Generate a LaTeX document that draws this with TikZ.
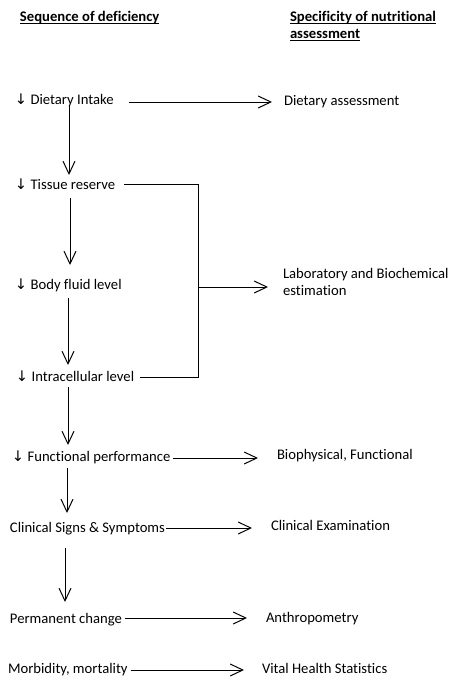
\documentclass[tikz,border=0pt]{standalone}
\usepackage{fontspec}
\setmainfont[Ligatures={NoCommon}]{Carlito}
\newfontfamily\arrfont{DejaVu Sans}
\usetikzlibrary{arrows.meta}
\newcommand{\dn}{{\arrfont\fontsize{11}{13}\selectfont ↓}}
\tikzset{
  lbl/.style={anchor=base west, inner sep=0pt, outer sep=0pt, font=\fontsize{11}{13}\selectfont},
  hdr/.style={lbl, font=\fontsize{11}{13}\selectfont\bfseries},
  conn/.style={line width=0.75pt, draw=black},
  arr/.style={conn, -{Straight Barb[length=9.5pt,width=9pt,line width=0.75pt]}},
  uline/.style={line width=0.75pt}
}
\begin{document}
\begin{tikzpicture}[x=0.75pt,y=-0.75pt]
\useasboundingbox (0,0) rectangle (469,687);
% headers
\node[hdr] (h1) at (20,21) {Sequence of deficiency};
\node[hdr] (h2a) at (290,21) {Specificity of nutritional};
\node[hdr] (h2b) at (290,38) {assessment};
\draw[uline] ([shift={(0,2)}]h1.base west) -- ([shift={(0,2)}]h1.base east);
\draw[uline] ([shift={(0,2)}]h2a.base west) -- ([shift={(0,2)}]h2a.base east);
\draw[uline] ([shift={(0,2)}]h2b.base west) -- ([shift={(0,2)}]h2b.base east);
% left column
\node[lbl] (di) at (15,104) {\dn\ Dietary Intake};
\node[lbl] (tr) at (15,189) {\dn\ Tissue reserve};
\node[lbl] (bf) at (15,289) {\dn\ Body fluid level};
\node[lbl] (il) at (16,381) {\dn\ Intracellular level};
\node[lbl] (fp) at (12,461) {\dn\ Functional performance};
\node[lbl] (cs) at (10,532) {Clinical Signs \& Symptoms};
\node[lbl] (pc) at (10,623) {Permanent change};
\node[lbl] (mm) at (8,673) {Morbidity, mortality};
% right column
\node[lbl] (da) at (284,105) {Dietary assessment};
\node[lbl] (lab1) at (283,278) {Laboratory and Biochemical};
\node[lbl] (lab2) at (283,295) {estimation};
\node[lbl] (bio) at (277,459) {Biophysical, Functional};
\node[lbl] (ce) at (271,530) {Clinical Examination};
\node[lbl] (an) at (266,622) {Anthropometry};
\node[lbl] (vh) at (262,673) {Vital Health Statistics};
% vertical sequence
\draw[arr] ([shift={(54,1)}]di.base west) -- ([shift={(54,-14)}]tr.base west);
\draw[arr] ([shift={(55,9)}]tr.base west) -- ([shift={(55,-24)}]bf.base west);
\draw[arr] ([shift={(53,9)}]bf.base west) -- ([shift={(52,-16)}]il.base west);
\draw[arr] ([shift={(52,6)}]il.base west) -- ([shift={(56,-16)}]fp.base west);
\draw[arr] ([shift={(55,7)}]fp.base west) -- ([shift={(57,-19)}]cs.base west);
\draw[arr] ([shift={(55,16)}]cs.base west) -- ([shift={(55,-21)}]pc.base west);
% horizontal arrows
\draw[arr] ([shift={(15,-2)}]di.base east) -- ([shift={(-12,-3)}]da.base west);
\draw[arr] ([shift={(3,-3)}]fp.base east) -- ([shift={(-19,-1)}]bio.base west);
\draw[arr] ([shift={(1,-4)}]cs.base east) -- ([shift={(-19,-2)}]ce.base west);
\draw[arr] ([shift={(3,-5)}]pc.base east) -- ([shift={(-19,-4)}]an.base west);
\draw[arr] ([shift={(3,-3)}]mm.base east) -- ([shift={(-18,-3)}]vh.base west);
% bracket
\coordinate (brk) at (198,287);
\draw[conn] ([shift={(9,-5)}]tr.base east) -| (brk);
\draw[conn] ([shift={(6,-4)}]il.base east) -| (brk);
\draw[arr] (brk) -- ([shift={(-15,0)}]lab1.base west |- brk);
\end{tikzpicture}
\end{document}
